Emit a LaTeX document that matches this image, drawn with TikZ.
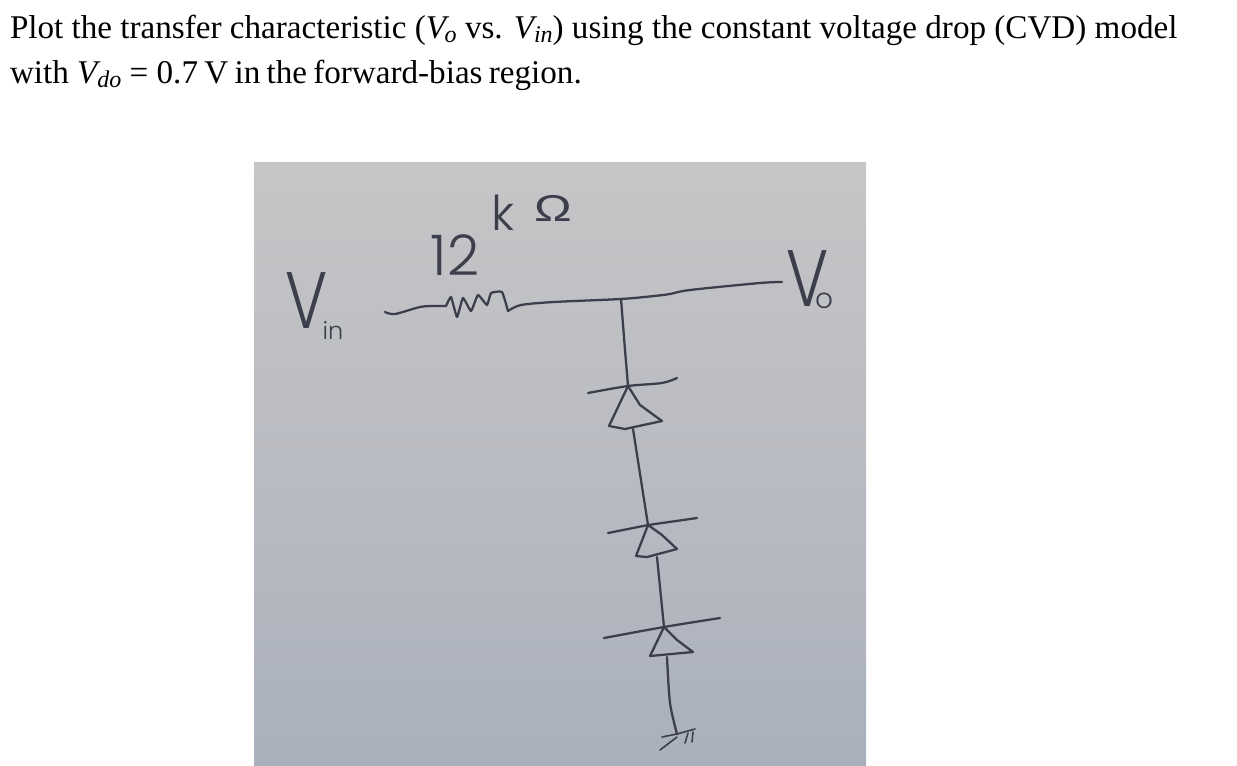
\documentclass[tikz,border=0pt]{standalone}
\usepackage{fontspec}
\setmainfont{Liberation Serif}
\newfontfamily\handfont{Poppins Light}
\newfontfamily\ohmfont{Liberation Sans}
\begin{document}
\begin{tikzpicture}[x=0.75pt,y=-0.75pt,
  ink/.style={draw=inkc,line width=1.7pt,line cap=round,line join=round},
  hand/.style={text=inkc,inner sep=0pt,outer sep=0pt,font=\handfont},
  para/.style={anchor=base west,inner sep=0pt,outer sep=0pt,font=\fontsize{24.85pt}{28pt}\selectfont,text=black}]
\definecolor{inkc}{HTML}{3C3F4B}
\definecolor{paperA}{HTML}{C6C5C7}
\definecolor{paperB}{HTML}{A9B0BC}
\useasboundingbox (0,0) rectangle (1237,766);
\fill[white] (0,0) rectangle (1237,766);
\shade[top color=paperA,bottom color=paperB,middle color=paperB!45!paperA] (254,163) rectangle (866,766);
% question text
\node[para] (line1) at (10,38.5) {Plot the transfer characteristic (\textit{V\kern-1pt\raisebox{-3pt}{\fontsize{18pt}{20pt}\selectfont o}} vs. \textit{V\raisebox{-3pt}{\fontsize{18pt}{20pt}\selectfont in}}) using the constant voltage drop (CVD) model};
\node[para] (line2) at (10,83.5) {with \textit{V\raisebox{-3pt}{\fontsize{18pt}{20pt}\selectfont do}} = {\spaceskip=4.7pt 0.7 V in the forward-bias region.}};
% handwritten labels
\node[hand,font=\handfont\fontsize{60pt}{60pt}\selectfont,xscale=0.8] (vin) at (307,301) {V};
\node[hand,font=\handfont\fontsize{18pt}{18pt}\selectfont] (insub) at (333,330) {in};
\node[hand,font=\handfont\fontsize{42pt}{42pt}\selectfont] (twelve) at (455,255) {12};
\node[hand,font=\handfont\fontsize{36pt}{36pt}\selectfont] (kilo) at (503,213) {k};
\node[hand,font=\ohmfont\fontsize{28pt}{28pt}\selectfont,xscale=1.35] (ohm) at (553,208) {Ω};
\node[hand,font=\handfont\fontsize{60pt}{60pt}\selectfont,xscale=0.8] (vo) at (808,279) {V};
\node[hand,font=\handfont\fontsize{21pt}{21pt}\selectfont] (osub) at (824,301) {o};
% junctions
\coordinate (rin) at (385,312);
\coordinate (ra) at (434,306);
\coordinate (rb) at (508,311);
\coordinate (top) at (621,299);
\coordinate (out) at (782,282);
\coordinate (k1) at (628,386);
\coordinate (a1) at (633,429);
\coordinate (k2) at (648,525);
\coordinate (a2) at (657,557);
\coordinate (k3) at (664,627);
\coordinate (a3) at (667,657);
\coordinate (gnd) at (677,734);
% input wire and resistor
\draw[ink] plot[smooth,tension=0.5] coordinates {(rin) (395,314) (420,307) (ra) (446,306)};
\draw[ink] plot[smooth,tension=0.25] coordinates {(446,306) (451,297) (457,317) (463,298) (471,311) (478,295) (487,305) (491,293) (502,292) (rb)};
\draw[ink] plot[smooth,tension=0.5] coordinates {(rb) (521,305) (554,302) (top) (654,296) (670,294) (690,290) (760,283) (out)};
% vertical branch
\draw[ink] (top) -- (625,350) -- (k1);
% diode 1
\draw[ink] plot[smooth,tension=0.5] coordinates {(588,393) (k1) (662,383) (677,378)};
\draw[ink] (k1) -- (609,426) -- (625,429) -- (662,421) -- (640,405) -- cycle;
\draw[ink] (a1) -- (k2);
% diode 2
\draw[ink] (608,533) -- (k2) -- (697,518);
\draw[ink] (k2) -- (636,556) -- (647,557) -- (677,549) -- (662,535) -- cycle;
\draw[ink] (a2) -- (k3);
% diode 3
\draw[ink] plot[smooth,tension=0.5] coordinates {(604,638) (k3) (720,618)};
\draw[ink] (k3) -- (650,656) -- (693,652) -- (677,640) -- cycle;
% to ground
\draw[ink] plot[smooth,tension=0.5] coordinates {(a3) (670,703) (gnd)};
\draw[ink,line width=1.2pt] (662,737) -- (gnd) -- (695,729);
\draw[ink,line width=1.2pt] (677,737) -- (660,750);
\draw[ink,line width=1.2pt] (688,733) -- (685,743);
\draw[ink,line width=1.2pt] (693,732) -- (692,742);
\end{tikzpicture}
\end{document}
